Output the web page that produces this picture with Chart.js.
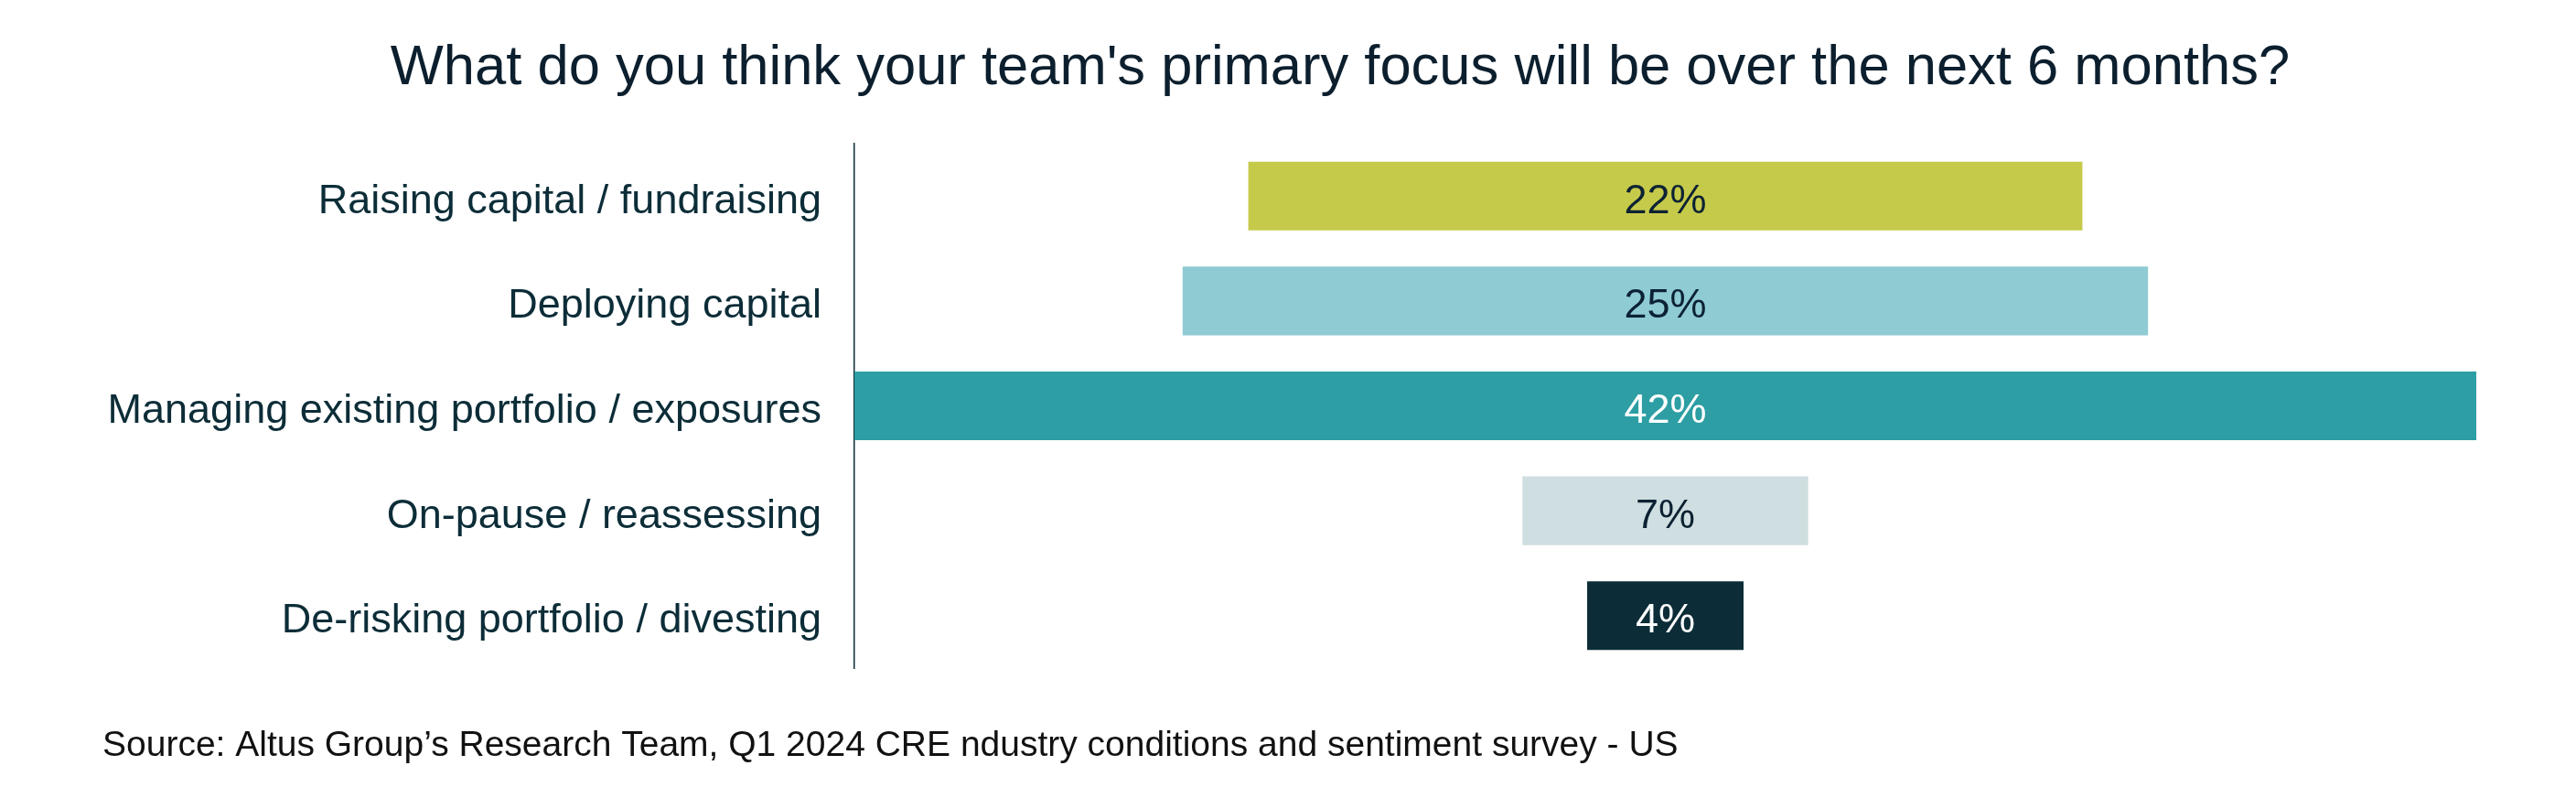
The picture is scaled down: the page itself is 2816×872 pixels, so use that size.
<!DOCTYPE html>
<html>
<head>
<meta charset="utf-8">
<script src="https://cdn.jsdelivr.net/npm/chart.js@4"></script>
<style>
  html, body { margin: 0; padding: 0; background: #ffffff; }
  #wrap { width: 2816px; height: 872px; position: relative; }
</style>
</head>
<body>
<div id="wrap"><canvas id="c"></canvas></div>
<script>
const titleText = "What do you think your team's primary focus will be over the next 6 months?";
const sourceText = "Source: Altus Group\u2019s Research Team, Q1 2024 CRE ndustry conditions and sentiment survey - US";
const categories = [
  "Raising capital / fundraising",
  "Deploying capital",
  "Managing existing portfolio / exposures",
  "On-pause / reassessing",
  "De-risking portfolio / divesting"
];
const values = [21.6, 25.0, 42.0, 7.4, 4.05];
const valueLabels = ["22%", "25%", "42%", "7%", "4%"];
const barColors = ["#C6CA4A", "#8FCBD3", "#2C9EA4", "#CFDEE0", "#0C2D38"];
const labelColors = ["#0C2233", "#0C2233", "#FFFFFF", "#0C2233", "#FFFFFF"];

const FONT = "'Liberation Sans', Arial, sans-serif";

const textPlugin = {
  id: 'textPlugin',
  afterDraw(chart) {
    const ctx = chart.ctx;
    ctx.save();
    // title
    ctx.fillStyle = '#0C1F2E';
    ctx.font = "61.5px " + FONT;
    ctx.textAlign = 'center';
    ctx.textBaseline = 'alphabetic';
    ctx.fillText(titleText, 1465, 92);
    // source
    ctx.fillStyle = '#111111';
    ctx.font = "39px " + FONT;
    ctx.textAlign = 'left';
    ctx.fillText(sourceText, 112, 826);
    // value labels
    const meta = chart.getDatasetMeta(0);
    ctx.font = "45px " + FONT;
    ctx.textAlign = 'center';
    ctx.textBaseline = 'middle';
    meta.data.forEach((bar, i) => {
      const p = bar.getProps(['x', 'y', 'base'], true);
      ctx.fillStyle = labelColors[i];
      ctx.fillText(valueLabels[i], (p.x + p.base) / 2, p.y + 6);
    });
    ctx.restore();
  }
};

new Chart(document.getElementById('c'), {
  type: 'bar',
  data: {
    labels: categories,
    datasets: [{
      data: values.map(v => [-v / 2, v / 2]),
      backgroundColor: barColors,
      borderWidth: 0,
      barPercentage: 0.655,
      categoryPercentage: 1
    }]
  },
  options: {
    indexAxis: 'y',
    responsive: true,
    maintainAspectRatio: false,
    animation: false,
    layout: { padding: { top: 157, bottom: 142, left: 0, right: 109 } },
    plugins: { legend: { display: false }, tooltip: { enabled: false } },
    scales: {
      x: { display: false, min: -21, max: 21 },
      y: {
        grid: { display: false },
        border: { display: true, color: '#0C2D38', width: 1.5 },
        ticks: {
          color: '#0C2D38',
          font: { family: FONT, size: 45 },
          padding: 28,
          labelOffset: 6
        },
        afterFit(scale) { scale.width = 934; }
      }
    }
  },
  plugins: [textPlugin]
});
</script>
</body>
</html>
